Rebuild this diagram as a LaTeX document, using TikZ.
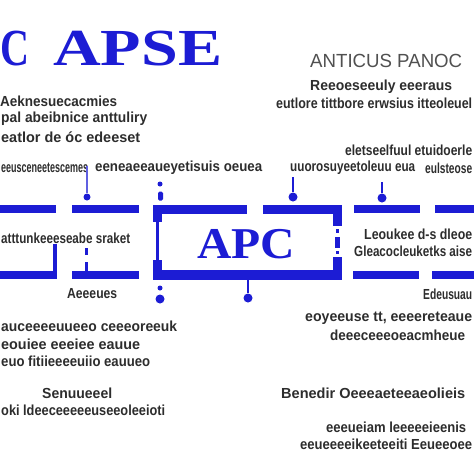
\documentclass[tikz,border=0pt]{standalone}
\usepackage{fontspec}
\usepackage{graphicx}
\setmainfont{Liberation Serif}
\newfontfamily\gsans{Liberation Sans}
\definecolor{apblue}{RGB}{28,28,212}
\definecolor{txt}{RGB}{45,45,45}
\definecolor{hdr}{RGB}{80,80,80}
\newcommand{\gw}[2]{\resizebox{#1pt}{1.12\height}{#2}}
\newcommand{\tw}[2]{\resizebox{#1pt}{\height}{#2}}
\tikzset{
  gtext/.style={anchor=west, inner sep=0pt, text=txt, font=\gsans\bfseries\fontsize{13}{13}\selectfont},
  bar/.style={fill=apblue, draw=none},
  dot/.style={circle, fill=apblue, draw=none, inner sep=0pt, minimum size=#1},
  stem/.style={draw=apblue, line width=2pt},
  title/.style={inner sep=0pt, text=apblue, font=\bfseries\fontsize{52}{52}\selectfont}
}
\begin{document}
\begin{tikzpicture}[x=1pt,y=-1pt]
\useasboundingbox (0,0) rectangle (474,474);
\fill[white] (0,0) rectangle (474,474);
% title
\node[title, anchor=base west] (tc) at (0,65) {\tw{29}{C}};
\node[title, anchor=base west] (tapse) at (53,65) {\tw{169}{APSE}};
\node[inner sep=0pt, anchor=base west, text=hdr, font=\gsans\fontsize{19}{19}\selectfont] (hdr) at (310,67) {\tw{152}{ANTICUS PANOC}};
% top-left text block
\node[gtext] (t1) at (0,101) {\gw{117}{Aeknesuecacmies}};
\node[gtext] (t2) at (1,119) {\gw{146}{pal abeibnice anttuliry}};
\node[gtext] (t3) at (1,137) {\gw{139}{eatlor de óc edeeset}};
% top-right text block
\node[gtext] (t4) at (310,87) {\gw{142}{Reeoeseeuly eeeraus}};
\node[gtext] (t5) at (276,103) {\gw{196}{eutlore tittbore erwsius itteoleuel}};
\node[gtext] (t6) at (345,150) {\gw{127}{eletseelfuul etuidoerle}};
% row above bars
\node[gtext] (t7) at (1,168) {\gw{87}{eeusceneetescemes}};
\node[gtext] (t8) at (95,168) {\gw{167}{eeneaeeaueyetisuis oeuea}};
\node[gtext] (t9) at (290,168) {\gw{125}{uuorosuyeetoleuu eua}};
\node[gtext] (t10) at (425,168) {\gw{47}{eulsteose}};
% middle texts
\node[gtext] (t11) at (1,238) {\gw{129}{atttunkeeeseabe sraket}};
\node[gtext] (t12) at (364,234) {\gw{108}{Leoukee d-s dleoe}};
\node[gtext] (t13) at (354,251) {\gw{118}{Gleacocleuketks aise}};
\node[gtext] (t14) at (67,294) {\gw{50}{Aeeeues}};
\node[gtext] (t15) at (423,294) {\gw{49}{Edeusuau}};
% lower left
\node[gtext] (t16) at (1,326) {\gw{176}{auceeeeuueeo ceeeoreeuk}};
\node[gtext] (t17) at (1,344) {\gw{139}{eouiee eeeiee eauue}};
\node[gtext] (t18) at (1,361) {\gw{149}{euo fitiieeeeuiio eauueo}};
\node[gtext] (t19) at (42,393) {\gw{70}{Senuueeel}};
\node[gtext] (t20) at (1,410) {\gw{164}{oki ldeeceeeeeuseeoleeioti}};
% lower right
\node[gtext] (t21) at (305,318) {\gw{167}{eoyeeuse tt, eeeereteaue}};
\node[gtext] (t22) at (330,335) {\gw{135}{deeeceeeoeacmheue}};
\node[gtext] (t23) at (281,393) {\gw{184}{Benedir Oeeeaeteeaeolieis}};
\node[gtext] (t24) at (326,427) {\gw{140}{eeeueiam leeeeeieenis}};
\node[gtext] (t25) at (300,444) {\gw{172}{eeueeeeikeeteeiti Eeueeoee}};
% APC
\node[inner sep=0pt, anchor=base west, text=apblue, font=\bfseries\fontsize{44}{44}\selectfont] (apc) at (197,258) {\tw{98}{APC}};
% left group
\fill[bar] (0,205) rectangle (56,213);
\fill[bar] (0,271) rectangle (57,279);
\fill[bar] (53,244) rectangle (57,279);
% group 2
\fill[bar] (72,205) rectangle (139,213);
\fill[bar] (72,271) rectangle (139,279);
\fill[bar] (85,248) rectangle (88,255);
\fill[bar] (85,262) rectangle (88,272);
\node[dot=7pt] (d1) at (87,197) {};
\coordinate (c1) at (87,166);
\draw[stem, draw=apblue!70] (c1) -- (d1);
% APC box
\fill[bar] (153,205) rectangle (247,214);
\fill[bar] (263,205) rectangle (342,214);
\fill[bar] (153,270) rectangle (342,280);
\fill[bar] (153,205) rectangle (162,222);
\fill[bar] (153,260) rectangle (162,280);
\fill[bar] (156,222) rectangle (158.5,260);
\fill[bar] (333,205) rectangle (342,226);
\fill[bar] (333,257) rectangle (342,280);
\fill[bar] (336,229) rectangle (339,233);
\fill[bar] (335,237) rectangle (340,248);
\fill[bar] (336,251) rectangle (339,254);
\node[dot=9pt] (d2) at (248,298) {};
\coordinate (c2) at (248,280);
\draw[stem] (c2) -- (d2);
\node[dot=9pt] (d3) at (293,197) {};
\coordinate (c3) at (293,177);
\draw[stem] (c3) -- (d3);
\node[dot=5pt] (d4) at (160,184) {};
\node[fill=apblue, rounded corners=1.5pt, inner sep=0pt, minimum width=5pt, minimum height=9pt] (d5) at (160.5,196) {};
\node[dot=5pt] (d6) at (160,288) {};
\node[dot=9pt] (d7) at (160,299) {};
% right group
\fill[bar] (354,205) rectangle (420,213);
\fill[bar] (353,271) rectangle (419,279);
\node[dot=9pt] (d8) at (382,198) {};
\coordinate (c8) at (382,182);
\draw[stem] (c8) -- (d8);
\fill[bar] (435,205) rectangle (474,213);
\fill[bar] (432,271) rectangle (474,279);
\end{tikzpicture}
\end{document}
